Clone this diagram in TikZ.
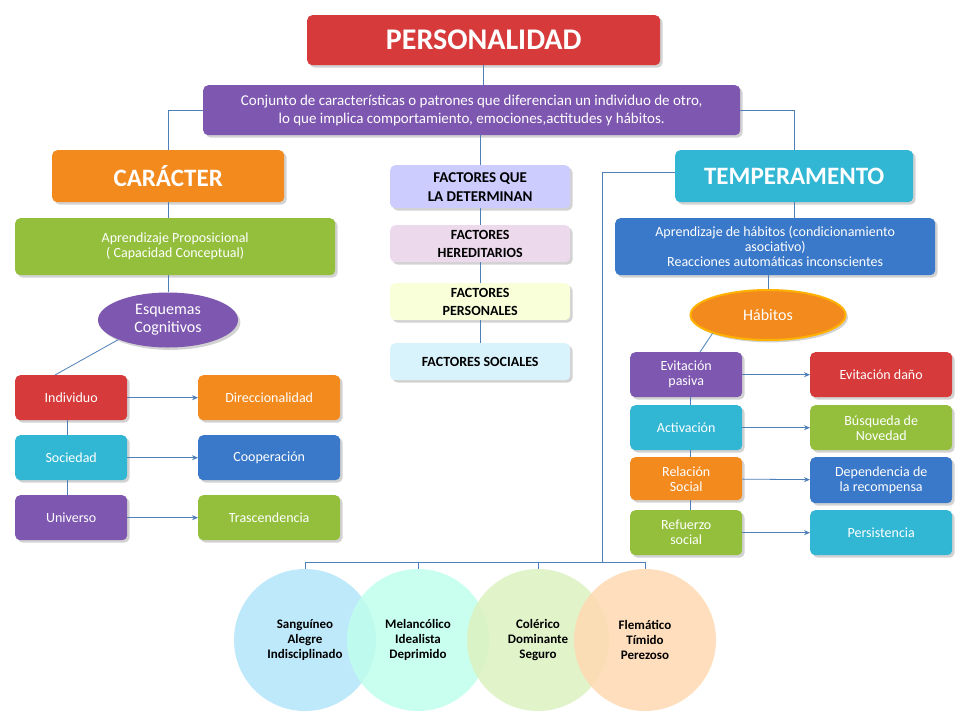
\documentclass[tikz,border=0pt]{standalone}
\usepackage{fontspec}
\setmainfont{Carlito}
\usetikzlibrary{shadows,arrows.meta,shapes.geometric}
\definecolor{cred}{HTML}{D63A3A}
\definecolor{cpur}{HTML}{7E57B0}
\definecolor{corg}{HTML}{F28A1E}
\definecolor{cgrn}{HTML}{93BF3C}
\definecolor{ccyn}{HTML}{31B7D4}
\definecolor{cblu}{HTML}{3A78C9}
\definecolor{lnc}{HTML}{4F7FB8}
\tikzset{
 bx/.style={draw=none,rounded corners=5pt,drop shadow={opacity=0.35},text=white,align=center,anchor=north west,inner sep=1pt,font=\fontsize{14}{15}\selectfont},
 fbx/.style={draw=none,rounded corners=5pt,drop shadow={opacity=0.35},text=black,align=center,anchor=north west,inner sep=1pt,font=\fontsize{14}{18}\selectfont\bfseries},
 ln/.style={draw=lnc,line width=0.8pt},
 ar/.style={ln,-{Stealth[length=6pt,width=5pt]}},
 circ/.style={circle,minimum size=142pt,inner sep=0pt,opacity=0.85,text opacity=1,font=\fontsize{13}{15}\selectfont\bfseries,align=center},
}
\begin{document}
\begin{tikzpicture}[x=1pt,y=-1pt]
\useasboundingbox (0,0) rectangle (960,720);
\fill[white] (0,0) rectangle (960,720);
% title
\node[bx,fill=cred,minimum width=353pt,minimum height=50pt,font=\fontsize{30}{32}\selectfont\bfseries] (t) at (307,15) {PERSONALIDAD};
\node[bx,fill=cpur,minimum width=537pt,minimum height=50pt,font=\fontsize{15}{18}\selectfont] (d) at (203,85) {Conjunto de características o patrones que diferencian un individuo de otro,\\lo que implica comportamiento, emociones,actitudes y hábitos.};
\node[bx,fill=corg,minimum width=232pt,minimum height=52pt,font=\fontsize{25}{27}\selectfont\bfseries] (c) at (52,150) {CARÁCTER};
\node[bx,fill=ccyn,minimum width=238pt,minimum height=52pt,font=\fontsize{25}{27}\selectfont\bfseries] (tm) at (675,150) {TEMPERAMENTO};
\draw[ln] (t.south) -- (t.south|-d.north);
\draw[ln] (d.west) -| (c.north);
\draw[ln] (d.east) -| (tm.north);
% left branch
\node[bx,fill=cgrn,minimum width=320pt,minimum height=57pt] (ap) at (15,218) {Aprendizaje Proposicional\\( Capacidad Conceptual)};
\draw[ln] (c.south) -- (ap.north-|c.south);
\node[ellipse,fill=cpur,drop shadow={opacity=0.35},minimum width=140pt,minimum height=55pt,text=white,align=center,font=\fontsize{16}{18}\selectfont,inner sep=0pt] (e) at (168,320) {Esquemas\\Cognitivos};
\draw[ln] (ap.south-|e.north) -- (e.north);
\node[bx,fill=cred,minimum width=112pt,minimum height=45pt] (i1) at (15,375) {Individuo};
\node[bx,fill=ccyn,minimum width=112pt,minimum height=45pt] (i2) at (15,435) {Sociedad};
\node[bx,fill=cpur,minimum width=112pt,minimum height=45pt] (i3) at (15,495) {Universo};
\node[bx,fill=corg,minimum width=142pt,minimum height=45pt] (r1) at (198,375) {Direccionalidad};
\node[bx,fill=cblu,minimum width=142pt,minimum height=45pt] (r2) at (198,435) {Cooperación};
\node[bx,fill=cgrn,minimum width=142pt,minimum height=45pt] (r3) at (198,495) {Trascendencia};
\draw[ln] (e.south west) -- ([xshift=40pt]i1.north west);
\draw[ln] ([xshift=52pt]i1.south west) -- ([xshift=52pt]i2.north west);
\draw[ln] ([xshift=52pt]i2.south west) -- ([xshift=52pt]i3.north west);
\draw[ar] (i1) -- (r1); \draw[ar] (i2) -- (r2); \draw[ar] (i3) -- (r3);
% factors
\node[fbx,fill=blue!20,minimum width=180pt,minimum height=43pt,font=\fontsize{15}{19}\selectfont\bfseries] (f1) at (390,165) {FACTORES QUE\\LA DETERMINAN};
\node[fbx,fill=violet!15,minimum width=180pt,minimum height=37pt] (f2) at (390,225) {FACTORES\\HEREDITARIOS};
\node[fbx,fill=green!15!yellow!15,minimum width=180pt,minimum height=37pt] (f3) at (390,283) {FACTORES\\PERSONALES};
\node[fbx,fill=cyan!15,minimum width=180pt,minimum height=37pt] (f4) at (390,343) {FACTORES SOCIALES};
\draw[ln] (f1.north|-d.south) -- (f1.north);
\draw[ln] (f1.south) -- (f2.north); \draw[ln] (f2.south) -- (f3.north); \draw[ln] (f3.south) -- (f4.north);
% right branch
\node[bx,fill=cblu,minimum width=320pt,minimum height=57pt] (ah) at (615,218) {Aprendizaje de hábitos (condicionamiento\\asociativo)\\Reacciones automáticas inconscientes};
\draw[ln] (tm.south) -- (ah.north-|tm.south);
\node[ellipse,fill=corg,draw=orange!60!yellow,line width=2pt,drop shadow={opacity=0.35},minimum width=155pt,minimum height=50pt,text=white,font=\fontsize{16}{18}\selectfont,inner sep=0pt] (h) at (768,315) {Hábitos};
\draw[ln] (ah.south-|h.north) -- (h.north);
\node[bx,fill=cpur,minimum width=112pt,minimum height=45pt] (l1) at (630,352) {Evitación\\pasiva};
\node[bx,fill=ccyn,minimum width=112pt,minimum height=45pt] (l2) at (630,405) {Activación};
\node[bx,fill=corg,minimum width=112pt,minimum height=43pt] (l3) at (630,457) {Relación\\Social};
\node[bx,fill=cgrn,minimum width=112pt,minimum height=45pt] (l4) at (630,510) {Refuerzo\\social};
\node[bx,fill=cred,minimum width=142pt,minimum height=45pt] (q1) at (810,352) {Evitación daño};
\node[bx,fill=cgrn,minimum width=142pt,minimum height=45pt] (q2) at (810,405) {Búsqueda de\\Novedad};
\node[bx,fill=cblu,minimum width=142pt,minimum height=46pt] (q3) at (810,457) {Dependencia de\\la recompensa};
\node[bx,fill=ccyn,minimum width=142pt,minimum height=45pt] (q4) at (810,510) {Persistencia};
\draw[ln] (h.south west) -- ([xshift=70pt]l1.north west);
\draw[ln] ([xshift=60pt]l1.south west) -- ([xshift=60pt]l2.north west);
\draw[ln] ([xshift=60pt]l2.south west) -- ([xshift=60pt]l3.north west);
\draw[ln] ([xshift=60pt]l3.south west) -- ([xshift=60pt]l4.north west);
\draw[ar] (l1) -- (q1); \draw[ar] (l2) -- (q2); \draw[ar] (l3) -- (q3); \draw[ar] (l4) -- (q4);
% circles
\node[circ,fill=cyan!30] (s1) at (305,640) {Sanguíneo\\Alegre\\Indisciplinado};
\node[circ,fill=green!30!cyan!25] (s2) at (418,640) {Melancólico\\Idealista\\Deprimido};
\node[circ,fill=yellow!45!green!25] (s3) at (538,640) {Colérico\\Dominante\\Seguro};
\node[circ,fill=orange!30] (s4) at (645,640) {Flemático\\Tímido\\Perezoso};
\coordinate (j) at (602,562);
\draw[ln] (tm.west|-0,172) -- (602,172) -- (j);
\draw[ln] (s1.north|-j) -- (s4.north|-j);
\foreach \s in {s1,s2,s3,s4} \draw[ln] (\s.north|-j) -- (\s.north);
\end{tikzpicture}
\end{document}
